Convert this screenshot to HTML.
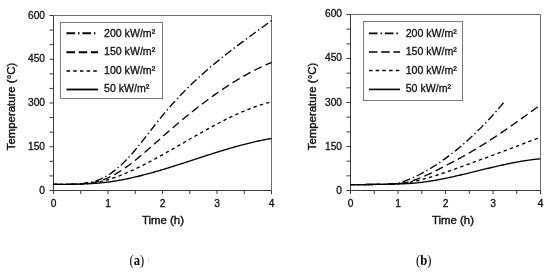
<!DOCTYPE html>
<html><head><meta charset="utf-8"><style>
html,body{margin:0;padding:0;background:#fff;}
body{width:550px;height:273px;overflow:hidden;}
svg{display:block;}
text{fill:#111;stroke:#111;stroke-width:0.3px;}
.tk{font-family:"Liberation Sans",sans-serif;font-size:10.2px;}
.lg{font-family:"Liberation Sans",sans-serif;font-size:10.6px;}
.at{font-family:"Liberation Sans",sans-serif;font-size:11.4px;stroke-width:0.4px;}
.cap{font-family:"Liberation Serif",serif;font-size:14px;fill:#000;stroke:none;}
</style></head><body>
<svg width="550" height="273" viewBox="0 0 550 273">
<rect width="550" height="273" fill="#fff"/>
<path d="M53.5,15.5 H271.5 V190.5" fill="none" stroke="#6e6e6e" stroke-width="1"/>
<line x1="49.5" y1="190.50" x2="53.5" y2="190.50" stroke="#3a3a3a" stroke-width="1"/>
<line x1="49.5" y1="175.92" x2="53.5" y2="175.92" stroke="#3a3a3a" stroke-width="1"/>
<line x1="49.5" y1="161.33" x2="53.5" y2="161.33" stroke="#3a3a3a" stroke-width="1"/>
<line x1="49.5" y1="146.75" x2="53.5" y2="146.75" stroke="#3a3a3a" stroke-width="1"/>
<line x1="49.5" y1="132.17" x2="53.5" y2="132.17" stroke="#3a3a3a" stroke-width="1"/>
<line x1="49.5" y1="117.58" x2="53.5" y2="117.58" stroke="#3a3a3a" stroke-width="1"/>
<line x1="49.5" y1="103.00" x2="53.5" y2="103.00" stroke="#3a3a3a" stroke-width="1"/>
<line x1="49.5" y1="88.42" x2="53.5" y2="88.42" stroke="#3a3a3a" stroke-width="1"/>
<line x1="49.5" y1="73.83" x2="53.5" y2="73.83" stroke="#3a3a3a" stroke-width="1"/>
<line x1="49.5" y1="59.25" x2="53.5" y2="59.25" stroke="#3a3a3a" stroke-width="1"/>
<line x1="49.5" y1="44.67" x2="53.5" y2="44.67" stroke="#3a3a3a" stroke-width="1"/>
<line x1="49.5" y1="30.08" x2="53.5" y2="30.08" stroke="#3a3a3a" stroke-width="1"/>
<line x1="49.5" y1="15.50" x2="53.5" y2="15.50" stroke="#3a3a3a" stroke-width="1"/>
<line x1="53.50" y1="190.5" x2="53.50" y2="194.0" stroke="#3a3a3a" stroke-width="1"/>
<line x1="80.75" y1="190.5" x2="80.75" y2="194.0" stroke="#3a3a3a" stroke-width="1"/>
<line x1="108.00" y1="190.5" x2="108.00" y2="194.0" stroke="#3a3a3a" stroke-width="1"/>
<line x1="135.25" y1="190.5" x2="135.25" y2="194.0" stroke="#3a3a3a" stroke-width="1"/>
<line x1="162.50" y1="190.5" x2="162.50" y2="194.0" stroke="#3a3a3a" stroke-width="1"/>
<line x1="189.75" y1="190.5" x2="189.75" y2="194.0" stroke="#3a3a3a" stroke-width="1"/>
<line x1="217.00" y1="190.5" x2="217.00" y2="194.0" stroke="#3a3a3a" stroke-width="1"/>
<line x1="244.25" y1="190.5" x2="244.25" y2="194.0" stroke="#3a3a3a" stroke-width="1"/>
<line x1="271.50" y1="190.5" x2="271.50" y2="194.0" stroke="#3a3a3a" stroke-width="1"/>
<line x1="53.5" y1="15.5" x2="53.5" y2="191.0" stroke="#3a3a3a" stroke-width="1"/>
<line x1="53.0" y1="190.5" x2="271.5" y2="190.5" stroke="#3a3a3a" stroke-width="1"/>
<text x="45" y="193.60" text-anchor="end" class="tk">0</text>
<text x="45" y="149.85" text-anchor="end" class="tk">150</text>
<text x="45" y="106.10" text-anchor="end" class="tk">300</text>
<text x="45" y="62.35" text-anchor="end" class="tk">450</text>
<text x="45" y="18.60" text-anchor="end" class="tk">600</text>
<text x="53.50" y="207.2" text-anchor="middle" class="tk">0</text>
<text x="108.00" y="207.2" text-anchor="middle" class="tk">1</text>
<text x="162.50" y="207.2" text-anchor="middle" class="tk">2</text>
<text x="217.00" y="207.2" text-anchor="middle" class="tk">3</text>
<text x="271.50" y="207.2" text-anchor="middle" class="tk">4</text>
<path d="M53.50,184.30 L54.50,184.30 L55.50,184.30 L56.50,184.30 L57.50,184.30 L58.50,184.30 L59.50,184.30 L60.50,184.30 L61.50,184.30 L62.50,184.30 L63.50,184.30 L64.50,184.30 L65.50,184.30 L66.50,184.30 L67.50,184.30 L68.50,184.30 L69.50,184.30 L70.50,184.30 L71.50,184.29 L72.50,184.28 L73.50,184.27 L74.50,184.25 L75.50,184.23 L76.50,184.21 L77.50,184.19 L78.50,184.16 L79.50,184.13 L80.50,184.09 L81.50,184.03 L82.50,183.94 L83.50,183.70 L84.50,183.38 L85.50,183.07 L86.50,182.85 L87.50,182.67 L88.50,182.52 L89.50,182.38 L90.50,182.23 L91.50,182.07 L92.50,181.88 L93.50,181.65 L94.50,181.38 L95.50,181.08 L96.50,180.73 L97.50,180.37 L98.50,179.98 L99.50,179.58 L100.50,179.16 L101.50,178.71 L102.50,178.23 L103.50,177.73 L104.50,177.19 L105.50,176.64 L106.50,176.07 L107.50,175.48 L108.50,174.86 L109.50,174.22 L110.50,173.54 L111.50,172.85 L112.50,172.13 L113.50,171.39 L114.50,170.64 L115.50,169.86 L116.50,169.05 L117.50,168.21 L118.50,167.36 L119.50,166.48 L120.50,165.58 L121.50,164.66 L122.50,163.72 L123.50,162.75 L124.50,161.76 L125.50,160.74 L126.50,159.71 L127.50,158.66 L128.50,157.59 L129.50,156.50 L130.50,155.39 L131.50,154.25 L132.50,153.10 L133.50,151.94 L134.50,150.76 L135.50,149.58 L136.50,148.38 L137.50,147.16 L138.50,145.93 L139.50,144.69 L140.50,143.44 L141.50,142.19 L142.50,140.93 L143.50,139.66 L144.50,138.39 L145.50,137.11 L146.50,135.82 L147.50,134.53 L148.50,133.25 L149.50,131.97 L150.50,130.68 L151.50,129.39 L152.50,128.10 L153.50,126.82 L154.50,125.54 L155.50,124.26 L156.50,123.00 L157.50,121.74 L158.50,120.49 L159.50,119.24 L160.50,118.00 L161.50,116.77 L162.50,115.55 L163.50,114.34 L164.50,113.15 L165.50,111.96 L166.50,110.78 L167.50,109.62 L168.50,108.46 L169.50,107.31 L170.50,106.17 L171.50,105.04 L172.50,103.92 L173.50,102.81 L174.50,101.71 L175.50,100.61 L176.50,99.53 L177.50,98.45 L178.50,97.38 L179.50,96.32 L180.50,95.27 L181.50,94.23 L182.50,93.20 L183.50,92.17 L184.50,91.15 L185.50,90.14 L186.50,89.14 L187.50,88.14 L188.50,87.15 L189.50,86.17 L190.50,85.20 L191.50,84.23 L192.50,83.28 L193.50,82.32 L194.50,81.38 L195.50,80.44 L196.50,79.51 L197.50,78.58 L198.50,77.66 L199.50,76.75 L200.50,75.84 L201.50,74.94 L202.50,74.05 L203.50,73.16 L204.50,72.28 L205.50,71.40 L206.50,70.53 L207.50,69.66 L208.50,68.80 L209.50,67.94 L210.50,67.09 L211.50,66.25 L212.50,65.40 L213.50,64.57 L214.50,63.74 L215.50,62.91 L216.50,62.09 L217.50,61.27 L218.50,60.45 L219.50,59.64 L220.50,58.84 L221.50,58.04 L222.50,57.24 L223.50,56.44 L224.50,55.65 L225.50,54.86 L226.50,54.08 L227.50,53.30 L228.50,52.52 L229.50,51.75 L230.50,50.97 L231.50,50.21 L232.50,49.44 L233.50,48.67 L234.50,47.91 L235.50,47.15 L236.50,46.40 L237.50,45.64 L238.50,44.89 L239.50,44.14 L240.50,43.39 L241.50,42.65 L242.50,41.90 L243.50,41.16 L244.50,40.42 L245.50,39.67 L246.50,38.93 L247.50,38.19 L248.50,37.46 L249.50,36.72 L250.50,35.98 L251.50,35.25 L252.50,34.51 L253.50,33.78 L254.50,33.05 L255.50,32.31 L256.50,31.58 L257.50,30.84 L258.50,30.11 L259.50,29.38 L260.50,28.64 L261.50,27.91 L262.50,27.17 L263.50,26.43 L264.50,25.70 L265.50,24.96 L266.50,24.22 L267.50,23.48 L268.50,22.74 L269.50,22.00 L270.50,21.25 L271.50,20.51" fill="none" stroke="#000" stroke-width="1.35" stroke-linejoin="round" stroke-dasharray="8 2.9 1.4 2.9" stroke-dashoffset="3.46"/>
<path d="M53.50,184.30 L54.50,184.30 L55.50,184.30 L56.50,184.30 L57.50,184.30 L58.50,184.30 L59.50,184.30 L60.50,184.30 L61.50,184.30 L62.50,184.30 L63.50,184.30 L64.50,184.30 L65.50,184.30 L66.50,184.30 L67.50,184.30 L68.50,184.30 L69.50,184.30 L70.50,184.30 L71.50,184.29 L72.50,184.28 L73.50,184.27 L74.50,184.25 L75.50,184.23 L76.50,184.21 L77.50,184.19 L78.50,184.16 L79.50,184.13 L80.50,184.09 L81.50,184.03 L82.50,183.93 L83.50,183.66 L84.50,183.31 L85.50,183.02 L86.50,182.89 L87.50,182.81 L88.50,182.75 L89.50,182.71 L90.50,182.67 L91.50,182.61 L92.50,182.54 L93.50,182.44 L94.50,182.29 L95.50,182.10 L96.50,181.87 L97.50,181.62 L98.50,181.35 L99.50,181.07 L100.50,180.79 L101.50,180.47 L102.50,180.13 L103.50,179.77 L104.50,179.38 L105.50,178.98 L106.50,178.57 L107.50,178.14 L108.50,177.70 L109.50,177.22 L110.50,176.73 L111.50,176.23 L112.50,175.70 L113.50,175.17 L114.50,174.63 L115.50,174.06 L116.50,173.48 L117.50,172.88 L118.50,172.27 L119.50,171.64 L120.50,171.01 L121.50,170.36 L122.50,169.70 L123.50,169.02 L124.50,168.33 L125.50,167.63 L126.50,166.92 L127.50,166.19 L128.50,165.47 L129.50,164.72 L130.50,163.97 L131.50,163.20 L132.50,162.43 L133.50,161.65 L134.50,160.86 L135.50,160.06 L136.50,159.26 L137.50,158.45 L138.50,157.62 L139.50,156.79 L140.50,155.96 L141.50,155.12 L142.50,154.28 L143.50,153.43 L144.50,152.57 L145.50,151.71 L146.50,150.84 L147.50,149.98 L148.50,149.10 L149.50,148.23 L150.50,147.35 L151.50,146.47 L152.50,145.59 L153.50,144.70 L154.50,143.82 L155.50,142.93 L156.50,142.04 L157.50,141.16 L158.50,140.27 L159.50,139.38 L160.50,138.49 L161.50,137.60 L162.50,136.72 L163.50,135.84 L164.50,134.96 L165.50,134.08 L166.50,133.21 L167.50,132.33 L168.50,131.46 L169.50,130.59 L170.50,129.73 L171.50,128.87 L172.50,128.01 L173.50,127.15 L174.50,126.30 L175.50,125.45 L176.50,124.60 L177.50,123.75 L178.50,122.91 L179.50,122.07 L180.50,121.23 L181.50,120.40 L182.50,119.57 L183.50,118.74 L184.50,117.92 L185.50,117.10 L186.50,116.28 L187.50,115.47 L188.50,114.66 L189.50,113.85 L190.50,113.05 L191.50,112.25 L192.50,111.45 L193.50,110.66 L194.50,109.87 L195.50,109.08 L196.50,108.30 L197.50,107.52 L198.50,106.74 L199.50,105.97 L200.50,105.20 L201.50,104.44 L202.50,103.68 L203.50,102.92 L204.50,102.17 L205.50,101.42 L206.50,100.68 L207.50,99.93 L208.50,99.20 L209.50,98.46 L210.50,97.74 L211.50,97.01 L212.50,96.29 L213.50,95.58 L214.50,94.86 L215.50,94.16 L216.50,93.45 L217.50,92.75 L218.50,92.06 L219.50,91.37 L220.50,90.68 L221.50,90.00 L222.50,89.33 L223.50,88.65 L224.50,87.99 L225.50,87.32 L226.50,86.67 L227.50,86.01 L228.50,85.36 L229.50,84.72 L230.50,84.08 L231.50,83.45 L232.50,82.82 L233.50,82.19 L234.50,81.57 L235.50,80.96 L236.50,80.35 L237.50,79.74 L238.50,79.14 L239.50,78.55 L240.50,77.96 L241.50,77.38 L242.50,76.80 L243.50,76.23 L244.50,75.66 L245.50,75.10 L246.50,74.54 L247.50,73.99 L248.50,73.44 L249.50,72.90 L250.50,72.36 L251.50,71.83 L252.50,71.31 L253.50,70.79 L254.50,70.28 L255.50,69.77 L256.50,69.27 L257.50,68.77 L258.50,68.28 L259.50,67.80 L260.50,67.32 L261.50,66.85 L262.50,66.38 L263.50,65.92 L264.50,65.47 L265.50,65.02 L266.50,64.58 L267.50,64.14 L268.50,63.71 L269.50,63.29 L270.50,62.87 L271.50,62.46" fill="none" stroke="#000" stroke-width="1.35" stroke-linejoin="round" stroke-dasharray="8.2 4.3"/>
<path d="M53.50,184.30 L54.50,184.30 L55.50,184.30 L56.50,184.30 L57.50,184.30 L58.50,184.30 L59.50,184.30 L60.50,184.30 L61.50,184.30 L62.50,184.30 L63.50,184.30 L64.50,184.30 L65.50,184.30 L66.50,184.30 L67.50,184.30 L68.50,184.30 L69.50,184.30 L70.50,184.30 L71.50,184.29 L72.50,184.28 L73.50,184.27 L74.50,184.25 L75.50,184.23 L76.50,184.21 L77.50,184.19 L78.50,184.15 L79.50,184.11 L80.50,184.07 L81.50,184.02 L82.50,183.98 L83.50,183.94 L84.50,183.90 L85.50,183.86 L86.50,183.80 L87.50,183.72 L88.50,183.62 L89.50,183.51 L90.50,183.39 L91.50,183.26 L92.50,183.12 L93.50,182.98 L94.50,182.82 L95.50,182.65 L96.50,182.46 L97.50,182.27 L98.50,182.06 L99.50,181.85 L100.50,181.64 L101.50,181.41 L102.50,181.17 L103.50,180.91 L104.50,180.65 L105.50,180.38 L106.50,180.10 L107.50,179.82 L108.50,179.53 L109.50,179.23 L110.50,178.91 L111.50,178.59 L112.50,178.26 L113.50,177.93 L114.50,177.59 L115.50,177.24 L116.50,176.88 L117.50,176.51 L118.50,176.14 L119.50,175.76 L120.50,175.37 L121.50,174.98 L122.50,174.58 L123.50,174.17 L124.50,173.76 L125.50,173.34 L126.50,172.91 L127.50,172.48 L128.50,172.05 L129.50,171.61 L130.50,171.16 L131.50,170.71 L132.50,170.25 L133.50,169.78 L134.50,169.31 L135.50,168.84 L136.50,168.37 L137.50,167.88 L138.50,167.40 L139.50,166.91 L140.50,166.41 L141.50,165.91 L142.50,165.41 L143.50,164.91 L144.50,164.40 L145.50,163.89 L146.50,163.37 L147.50,162.85 L148.50,162.33 L149.50,161.81 L150.50,161.28 L151.50,160.75 L152.50,160.22 L153.50,159.68 L154.50,159.14 L155.50,158.60 L156.50,158.06 L157.50,157.51 L158.50,156.96 L159.50,156.41 L160.50,155.86 L161.50,155.31 L162.50,154.75 L163.50,154.20 L164.50,153.64 L165.50,153.08 L166.50,152.51 L167.50,151.95 L168.50,151.38 L169.50,150.82 L170.50,150.25 L171.50,149.68 L172.50,149.11 L173.50,148.54 L174.50,147.97 L175.50,147.40 L176.50,146.82 L177.50,146.25 L178.50,145.68 L179.50,145.10 L180.50,144.53 L181.50,143.95 L182.50,143.38 L183.50,142.80 L184.50,142.23 L185.50,141.65 L186.50,141.08 L187.50,140.50 L188.50,139.93 L189.50,139.35 L190.50,138.78 L191.50,138.20 L192.50,137.63 L193.50,137.06 L194.50,136.49 L195.50,135.92 L196.50,135.35 L197.50,134.78 L198.50,134.22 L199.50,133.65 L200.50,133.09 L201.50,132.52 L202.50,131.96 L203.50,131.40 L204.50,130.85 L205.50,130.29 L206.50,129.74 L207.50,129.18 L208.50,128.63 L209.50,128.08 L210.50,127.54 L211.50,127.00 L212.50,126.45 L213.50,125.92 L214.50,125.38 L215.50,124.85 L216.50,124.31 L217.50,123.79 L218.50,123.26 L219.50,122.74 L220.50,122.22 L221.50,121.70 L222.50,121.19 L223.50,120.68 L224.50,120.17 L225.50,119.67 L226.50,119.17 L227.50,118.68 L228.50,118.19 L229.50,117.70 L230.50,117.21 L231.50,116.73 L232.50,116.26 L233.50,115.79 L234.50,115.32 L235.50,114.86 L236.50,114.40 L237.50,113.94 L238.50,113.49 L239.50,113.05 L240.50,112.61 L241.50,112.17 L242.50,111.74 L243.50,111.31 L244.50,110.89 L245.50,110.48 L246.50,110.07 L247.50,109.66 L248.50,109.27 L249.50,108.87 L250.50,108.48 L251.50,108.10 L252.50,107.72 L253.50,107.35 L254.50,106.99 L255.50,106.63 L256.50,106.27 L257.50,105.93 L258.50,105.59 L259.50,105.25 L260.50,104.92 L261.50,104.61 L262.50,104.29 L263.50,103.99 L264.50,103.68 L265.50,103.39 L266.50,103.10 L267.50,102.82 L268.50,102.54 L269.50,102.28 L270.50,102.02 L271.50,101.77" fill="none" stroke="#000" stroke-width="1.35" stroke-linejoin="round" stroke-dasharray="3.4 3.2"/>
<path d="M53.50,184.30 L54.50,184.30 L55.50,184.30 L56.50,184.30 L57.50,184.30 L58.50,184.30 L59.50,184.30 L60.50,184.30 L61.50,184.30 L62.50,184.30 L63.50,184.30 L64.50,184.30 L65.50,184.30 L66.50,184.30 L67.50,184.30 L68.50,184.30 L69.50,184.30 L70.50,184.30 L71.50,184.29 L72.50,184.28 L73.50,184.27 L74.50,184.25 L75.50,184.23 L76.50,184.21 L77.50,184.19 L78.50,184.16 L79.50,184.12 L80.50,184.08 L81.50,184.03 L82.50,183.97 L83.50,183.89 L84.50,183.80 L85.50,183.72 L86.50,183.66 L87.50,183.62 L88.50,183.59 L89.50,183.56 L90.50,183.53 L91.50,183.50 L92.50,183.46 L93.50,183.42 L94.50,183.36 L95.50,183.30 L96.50,183.22 L97.50,183.14 L98.50,183.06 L99.50,182.98 L100.50,182.89 L101.50,182.80 L102.50,182.69 L103.50,182.59 L104.50,182.48 L105.50,182.36 L106.50,182.24 L107.50,182.12 L108.50,181.99 L109.50,181.86 L110.50,181.72 L111.50,181.57 L112.50,181.42 L113.50,181.27 L114.50,181.12 L115.50,180.96 L116.50,180.80 L117.50,180.63 L118.50,180.45 L119.50,180.28 L120.50,180.10 L121.50,179.91 L122.50,179.73 L123.50,179.53 L124.50,179.34 L125.50,179.14 L126.50,178.93 L127.50,178.73 L128.50,178.52 L129.50,178.30 L130.50,178.09 L131.50,177.86 L132.50,177.64 L133.50,177.41 L134.50,177.18 L135.50,176.95 L136.50,176.71 L137.50,176.47 L138.50,176.23 L139.50,175.98 L140.50,175.73 L141.50,175.48 L142.50,175.23 L143.50,174.97 L144.50,174.71 L145.50,174.45 L146.50,174.18 L147.50,173.92 L148.50,173.65 L149.50,173.37 L150.50,173.10 L151.50,172.82 L152.50,172.54 L153.50,172.26 L154.50,171.98 L155.50,171.69 L156.50,171.40 L157.50,171.11 L158.50,170.82 L159.50,170.53 L160.50,170.23 L161.50,169.93 L162.50,169.63 L163.50,169.33 L164.50,169.03 L165.50,168.73 L166.50,168.42 L167.50,168.11 L168.50,167.81 L169.50,167.50 L170.50,167.18 L171.50,166.87 L172.50,166.56 L173.50,166.24 L174.50,165.93 L175.50,165.61 L176.50,165.29 L177.50,164.97 L178.50,164.66 L179.50,164.33 L180.50,164.01 L181.50,163.69 L182.50,163.37 L183.50,163.04 L184.50,162.72 L185.50,162.40 L186.50,162.07 L187.50,161.75 L188.50,161.42 L189.50,161.10 L190.50,160.77 L191.50,160.44 L192.50,160.12 L193.50,159.79 L194.50,159.46 L195.50,159.14 L196.50,158.81 L197.50,158.49 L198.50,158.16 L199.50,157.83 L200.50,157.51 L201.50,157.18 L202.50,156.86 L203.50,156.53 L204.50,156.21 L205.50,155.89 L206.50,155.57 L207.50,155.24 L208.50,154.92 L209.50,154.60 L210.50,154.28 L211.50,153.96 L212.50,153.65 L213.50,153.33 L214.50,153.01 L215.50,152.70 L216.50,152.39 L217.50,152.07 L218.50,151.76 L219.50,151.45 L220.50,151.15 L221.50,150.84 L222.50,150.53 L223.50,150.23 L224.50,149.93 L225.50,149.63 L226.50,149.33 L227.50,149.03 L228.50,148.74 L229.50,148.44 L230.50,148.15 L231.50,147.86 L232.50,147.57 L233.50,147.29 L234.50,147.00 L235.50,146.72 L236.50,146.44 L237.50,146.17 L238.50,145.89 L239.50,145.62 L240.50,145.35 L241.50,145.08 L242.50,144.82 L243.50,144.56 L244.50,144.30 L245.50,144.04 L246.50,143.79 L247.50,143.54 L248.50,143.29 L249.50,143.04 L250.50,142.80 L251.50,142.56 L252.50,142.33 L253.50,142.09 L254.50,141.86 L255.50,141.64 L256.50,141.41 L257.50,141.19 L258.50,140.98 L259.50,140.76 L260.50,140.56 L261.50,140.35 L262.50,140.15 L263.50,139.95 L264.50,139.76 L265.50,139.56 L266.50,139.38 L267.50,139.19 L268.50,139.01 L269.50,138.84 L270.50,138.67 L271.50,138.50" fill="none" stroke="#000" stroke-width="1.35" stroke-linejoin="round"/>
<rect x="60.5" y="22.5" width="102.0" height="76.0" fill="#fff" stroke="#7a7a7a" stroke-width="1"/>
<line x1="66.5" y1="33.2" x2="98" y2="33.2" stroke="#000" stroke-width="1.9" stroke-dasharray="8.6 2.9 1.5 2.9"/>
<text x="104" y="37.00" class="lg">200 kW/m²</text>
<line x1="66.5" y1="52.2" x2="98" y2="52.2" stroke="#000" stroke-width="1.9" stroke-dasharray="8.5 3.7"/>
<text x="104" y="55.20" class="lg">150 kW/m²</text>
<line x1="66.5" y1="71" x2="98" y2="71" stroke="#000" stroke-width="1.5" stroke-dasharray="3.5 3.2"/>
<text x="104" y="74.00" class="lg">100 kW/m²</text>
<line x1="66.5" y1="89.5" x2="98" y2="89.5" stroke="#000" stroke-width="1.7999999999999998"/>
<text x="104" y="92.40" class="lg">50 kW/m²</text>
<text x="163" y="223.6" text-anchor="middle" class="at">Time (h)</text>
<text transform="translate(15.2,106.5) rotate(-90)" text-anchor="middle" class="at">Temperature (°C)</text>
<path d="M350.5,14.5 H540.5 V190.5" fill="none" stroke="#6e6e6e" stroke-width="1"/>
<line x1="346.5" y1="190.50" x2="350.5" y2="190.50" stroke="#3a3a3a" stroke-width="1"/>
<line x1="346.5" y1="175.83" x2="350.5" y2="175.83" stroke="#3a3a3a" stroke-width="1"/>
<line x1="346.5" y1="161.17" x2="350.5" y2="161.17" stroke="#3a3a3a" stroke-width="1"/>
<line x1="346.5" y1="146.50" x2="350.5" y2="146.50" stroke="#3a3a3a" stroke-width="1"/>
<line x1="346.5" y1="131.83" x2="350.5" y2="131.83" stroke="#3a3a3a" stroke-width="1"/>
<line x1="346.5" y1="117.17" x2="350.5" y2="117.17" stroke="#3a3a3a" stroke-width="1"/>
<line x1="346.5" y1="102.50" x2="350.5" y2="102.50" stroke="#3a3a3a" stroke-width="1"/>
<line x1="346.5" y1="87.83" x2="350.5" y2="87.83" stroke="#3a3a3a" stroke-width="1"/>
<line x1="346.5" y1="73.17" x2="350.5" y2="73.17" stroke="#3a3a3a" stroke-width="1"/>
<line x1="346.5" y1="58.50" x2="350.5" y2="58.50" stroke="#3a3a3a" stroke-width="1"/>
<line x1="346.5" y1="43.83" x2="350.5" y2="43.83" stroke="#3a3a3a" stroke-width="1"/>
<line x1="346.5" y1="29.17" x2="350.5" y2="29.17" stroke="#3a3a3a" stroke-width="1"/>
<line x1="346.5" y1="14.50" x2="350.5" y2="14.50" stroke="#3a3a3a" stroke-width="1"/>
<line x1="350.50" y1="190.5" x2="350.50" y2="194.0" stroke="#3a3a3a" stroke-width="1"/>
<line x1="374.25" y1="190.5" x2="374.25" y2="194.0" stroke="#3a3a3a" stroke-width="1"/>
<line x1="398.00" y1="190.5" x2="398.00" y2="194.0" stroke="#3a3a3a" stroke-width="1"/>
<line x1="421.75" y1="190.5" x2="421.75" y2="194.0" stroke="#3a3a3a" stroke-width="1"/>
<line x1="445.50" y1="190.5" x2="445.50" y2="194.0" stroke="#3a3a3a" stroke-width="1"/>
<line x1="469.25" y1="190.5" x2="469.25" y2="194.0" stroke="#3a3a3a" stroke-width="1"/>
<line x1="493.00" y1="190.5" x2="493.00" y2="194.0" stroke="#3a3a3a" stroke-width="1"/>
<line x1="516.75" y1="190.5" x2="516.75" y2="194.0" stroke="#3a3a3a" stroke-width="1"/>
<line x1="540.50" y1="190.5" x2="540.50" y2="194.0" stroke="#3a3a3a" stroke-width="1"/>
<line x1="350.5" y1="14.5" x2="350.5" y2="191.0" stroke="#3a3a3a" stroke-width="1"/>
<line x1="350.0" y1="190.5" x2="540.5" y2="190.5" stroke="#3a3a3a" stroke-width="1"/>
<text x="342" y="193.60" text-anchor="end" class="tk">0</text>
<text x="342" y="150.00" text-anchor="end" class="tk">150</text>
<text x="342" y="105.60" text-anchor="end" class="tk">300</text>
<text x="342" y="60.90" text-anchor="end" class="tk">450</text>
<text x="342" y="16.65" text-anchor="end" class="tk">600</text>
<text x="350.50" y="207.2" text-anchor="middle" class="tk">0</text>
<text x="398.00" y="207.2" text-anchor="middle" class="tk">1</text>
<text x="445.50" y="207.2" text-anchor="middle" class="tk">2</text>
<text x="493.00" y="207.2" text-anchor="middle" class="tk">3</text>
<text x="540.50" y="207.2" text-anchor="middle" class="tk">4</text>
<path d="M350.50,184.60 L351.50,184.60 L352.50,184.60 L353.50,184.60 L354.50,184.60 L355.50,184.60 L356.50,184.60 L357.50,184.60 L358.50,184.60 L359.50,184.60 L360.50,184.60 L361.50,184.60 L362.50,184.59 L363.50,184.58 L364.50,184.57 L365.50,184.56 L366.50,184.54 L367.50,184.53 L368.50,184.52 L369.50,184.51 L370.50,184.49 L371.50,184.48 L372.50,184.46 L373.50,184.45 L374.50,184.43 L375.50,184.42 L376.50,184.41 L377.50,184.40 L378.50,184.40 L379.50,184.40 L380.50,184.40 L381.50,184.40 L382.50,184.40 L383.50,184.40 L384.50,184.40 L385.50,184.40 L386.50,184.40 L387.50,184.40 L388.50,184.40 L389.50,184.40 L390.50,184.40 L391.50,184.40 L392.50,184.39 L393.50,184.29 L394.50,184.12 L395.50,183.89 L396.50,183.63 L397.50,183.34 L398.50,183.06 L399.50,182.79 L400.50,182.50 L401.50,182.17 L402.50,181.82 L403.50,181.46 L404.50,181.09 L405.50,180.71 L406.50,180.33 L407.50,179.95 L408.50,179.55 L409.50,179.14 L410.50,178.72 L411.50,178.29 L412.50,177.85 L413.50,177.40 L414.50,176.95 L415.50,176.48 L416.50,176.00 L417.50,175.52 L418.50,175.02 L419.50,174.52 L420.50,174.01 L421.50,173.49 L422.50,172.95 L423.50,172.41 L424.50,171.86 L425.50,171.30 L426.50,170.74 L427.50,170.16 L428.50,169.58 L429.50,168.98 L430.50,168.38 L431.50,167.77 L432.50,167.15 L433.50,166.52 L434.50,165.89 L435.50,165.24 L436.50,164.59 L437.50,163.93 L438.50,163.26 L439.50,162.58 L440.50,161.90 L441.50,161.20 L442.50,160.50 L443.50,159.79 L444.50,159.08 L445.50,158.35 L446.50,157.62 L447.50,156.88 L448.50,156.13 L449.50,155.38 L450.50,154.61 L451.50,153.84 L452.50,153.07 L453.50,152.28 L454.50,151.49 L455.50,150.69 L456.50,149.88 L457.50,149.06 L458.50,148.24 L459.50,147.41 L460.50,146.57 L461.50,145.72 L462.50,144.87 L463.50,144.01 L464.50,143.14 L465.50,142.26 L466.50,141.38 L467.50,140.48 L468.50,139.58 L469.50,138.67 L470.50,137.76 L471.50,136.83 L472.50,135.90 L473.50,134.96 L474.50,134.01 L475.50,133.05 L476.50,132.08 L477.50,131.11 L478.50,130.13 L479.50,129.13 L480.50,128.14 L481.50,127.13 L482.50,126.11 L483.50,125.09 L484.50,124.06 L485.50,123.02 L486.50,121.97 L487.50,120.91 L488.50,119.84 L489.50,118.77 L490.50,117.68 L491.50,116.59 L492.50,115.49 L493.50,114.38 L494.50,113.26 L495.50,112.13 L496.50,111.00 L497.50,109.85 L498.50,108.70 L499.50,107.54 L500.50,106.36 L501.50,105.18 L502.50,103.99 L503.50,102.80" fill="none" stroke="#000" stroke-width="1.35" stroke-linejoin="round" stroke-dasharray="8 2.9 1.4 2.9" stroke-dashoffset="8.27"/>
<path d="M350.50,184.60 L351.50,184.60 L352.50,184.60 L353.50,184.60 L354.50,184.60 L355.50,184.60 L356.50,184.60 L357.50,184.60 L358.50,184.60 L359.50,184.60 L360.50,184.60 L361.50,184.60 L362.50,184.59 L363.50,184.58 L364.50,184.57 L365.50,184.56 L366.50,184.54 L367.50,184.53 L368.50,184.52 L369.50,184.51 L370.50,184.49 L371.50,184.48 L372.50,184.46 L373.50,184.45 L374.50,184.43 L375.50,184.42 L376.50,184.41 L377.50,184.40 L378.50,184.40 L379.50,184.40 L380.50,184.40 L381.50,184.40 L382.50,184.40 L383.50,184.40 L384.50,184.36 L385.50,184.30 L386.50,184.22 L387.50,184.13 L388.50,184.03 L389.50,183.93 L390.50,183.85 L391.50,183.78 L392.50,183.73 L393.50,183.70 L394.50,183.67 L395.50,183.65 L396.50,183.63 L397.50,183.60 L398.50,183.55 L399.50,183.50 L400.50,183.40 L401.50,183.26 L402.50,183.09 L403.50,182.90 L404.50,182.70 L405.50,182.50 L406.50,182.29 L407.50,182.06 L408.50,181.81 L409.50,181.53 L410.50,181.25 L411.50,180.95 L412.50,180.64 L413.50,180.33 L414.50,180.00 L415.50,179.66 L416.50,179.30 L417.50,178.93 L418.50,178.55 L419.50,178.16 L420.50,177.77 L421.50,177.37 L422.50,176.95 L423.50,176.53 L424.50,176.09 L425.50,175.65 L426.50,175.20 L427.50,174.75 L428.50,174.30 L429.50,173.83 L430.50,173.36 L431.50,172.88 L432.50,172.39 L433.50,171.91 L434.50,171.42 L435.50,170.93 L436.50,170.43 L437.50,169.92 L438.50,169.42 L439.50,168.91 L440.50,168.40 L441.50,167.89 L442.50,167.37 L443.50,166.86 L444.50,166.34 L445.50,165.81 L446.50,165.29 L447.50,164.77 L448.50,164.24 L449.50,163.72 L450.50,163.19 L451.50,162.66 L452.50,162.14 L453.50,161.60 L454.50,161.07 L455.50,160.54 L456.50,160.00 L457.50,159.46 L458.50,158.92 L459.50,158.38 L460.50,157.83 L461.50,157.28 L462.50,156.73 L463.50,156.18 L464.50,155.62 L465.50,155.06 L466.50,154.50 L467.50,153.93 L468.50,153.36 L469.50,152.79 L470.50,152.21 L471.50,151.63 L472.50,151.04 L473.50,150.45 L474.50,149.86 L475.50,149.26 L476.50,148.66 L477.50,148.06 L478.50,147.45 L479.50,146.84 L480.50,146.22 L481.50,145.60 L482.50,144.98 L483.50,144.35 L484.50,143.72 L485.50,143.09 L486.50,142.45 L487.50,141.81 L488.50,141.17 L489.50,140.53 L490.50,139.88 L491.50,139.23 L492.50,138.57 L493.50,137.92 L494.50,137.26 L495.50,136.59 L496.50,135.93 L497.50,135.26 L498.50,134.59 L499.50,133.92 L500.50,133.24 L501.50,132.57 L502.50,131.89 L503.50,131.20 L504.50,130.52 L505.50,129.84 L506.50,129.15 L507.50,128.46 L508.50,127.76 L509.50,127.07 L510.50,126.37 L511.50,125.68 L512.50,124.98 L513.50,124.28 L514.50,123.57 L515.50,122.87 L516.50,122.16 L517.50,121.45 L518.50,120.74 L519.50,120.03 L520.50,119.32 L521.50,118.60 L522.50,117.89 L523.50,117.17 L524.50,116.45 L525.50,115.73 L526.50,115.01 L527.50,114.29 L528.50,113.57 L529.50,112.84 L530.50,112.11 L531.50,111.39 L532.50,110.66 L533.50,109.93 L534.50,109.20 L535.50,108.47 L536.50,107.74 L537.50,107.01 L538.50,106.27 L539.50,105.54 L540.50,104.80" fill="none" stroke="#000" stroke-width="1.35" stroke-linejoin="round" stroke-dasharray="8.2 4.3"/>
<path d="M350.50,184.60 L351.50,184.60 L352.50,184.60 L353.50,184.60 L354.50,184.60 L355.50,184.60 L356.50,184.60 L357.50,184.60 L358.50,184.60 L359.50,184.60 L360.50,184.60 L361.50,184.60 L362.50,184.59 L363.50,184.58 L364.50,184.57 L365.50,184.56 L366.50,184.54 L367.50,184.53 L368.50,184.52 L369.50,184.51 L370.50,184.49 L371.50,184.48 L372.50,184.46 L373.50,184.45 L374.50,184.43 L375.50,184.42 L376.50,184.41 L377.50,184.40 L378.50,184.40 L379.50,184.40 L380.50,184.40 L381.50,184.40 L382.50,184.40 L383.50,184.40 L384.50,184.40 L385.50,184.39 L386.50,184.39 L387.50,184.38 L388.50,184.37 L389.50,184.36 L390.50,184.35 L391.50,184.33 L392.50,184.32 L393.50,184.28 L394.50,184.23 L395.50,184.16 L396.50,184.09 L397.50,184.01 L398.50,183.92 L399.50,183.84 L400.50,183.73 L401.50,183.62 L402.50,183.49 L403.50,183.36 L404.50,183.22 L405.50,183.07 L406.50,182.92 L407.50,182.76 L408.50,182.59 L409.50,182.41 L410.50,182.22 L411.50,182.02 L412.50,181.82 L413.50,181.62 L414.50,181.41 L415.50,181.19 L416.50,180.96 L417.50,180.73 L418.50,180.49 L419.50,180.24 L420.50,180.00 L421.50,179.74 L422.50,179.48 L423.50,179.21 L424.50,178.94 L425.50,178.66 L426.50,178.38 L427.50,178.09 L428.50,177.80 L429.50,177.51 L430.50,177.21 L431.50,176.90 L432.50,176.59 L433.50,176.28 L434.50,175.97 L435.50,175.65 L436.50,175.33 L437.50,175.00 L438.50,174.67 L439.50,174.34 L440.50,174.01 L441.50,173.67 L442.50,173.33 L443.50,172.99 L444.50,172.65 L445.50,172.30 L446.50,171.95 L447.50,171.60 L448.50,171.26 L449.50,170.90 L450.50,170.55 L451.50,170.20 L452.50,169.84 L453.50,169.49 L454.50,169.13 L455.50,168.77 L456.50,168.42 L457.50,168.06 L458.50,167.70 L459.50,167.34 L460.50,166.98 L461.50,166.63 L462.50,166.27 L463.50,165.91 L464.50,165.55 L465.50,165.18 L466.50,164.82 L467.50,164.46 L468.50,164.10 L469.50,163.74 L470.50,163.37 L471.50,163.01 L472.50,162.65 L473.50,162.28 L474.50,161.92 L475.50,161.55 L476.50,161.19 L477.50,160.82 L478.50,160.45 L479.50,160.09 L480.50,159.72 L481.50,159.35 L482.50,158.98 L483.50,158.62 L484.50,158.25 L485.50,157.88 L486.50,157.51 L487.50,157.14 L488.50,156.77 L489.50,156.40 L490.50,156.03 L491.50,155.66 L492.50,155.29 L493.50,154.91 L494.50,154.54 L495.50,154.17 L496.50,153.80 L497.50,153.42 L498.50,153.05 L499.50,152.68 L500.50,152.30 L501.50,151.93 L502.50,151.56 L503.50,151.18 L504.50,150.81 L505.50,150.43 L506.50,150.06 L507.50,149.68 L508.50,149.30 L509.50,148.93 L510.50,148.55 L511.50,148.17 L512.50,147.80 L513.50,147.42 L514.50,147.04 L515.50,146.66 L516.50,146.29 L517.50,145.91 L518.50,145.53 L519.50,145.15 L520.50,144.77 L521.50,144.39 L522.50,144.01 L523.50,143.63 L524.50,143.25 L525.50,142.87 L526.50,142.49 L527.50,142.11 L528.50,141.73 L529.50,141.35 L530.50,140.97 L531.50,140.59 L532.50,140.21 L533.50,139.82 L534.50,139.44 L535.50,139.06 L536.50,138.68 L537.50,138.30 L538.50,137.91 L539.50,137.53 L540.50,137.15" fill="none" stroke="#000" stroke-width="1.35" stroke-linejoin="round" stroke-dasharray="3.4 3.2"/>
<path d="M350.50,184.60 L351.50,184.60 L352.50,184.60 L353.50,184.60 L354.50,184.60 L355.50,184.60 L356.50,184.60 L357.50,184.60 L358.50,184.60 L359.50,184.60 L360.50,184.60 L361.50,184.60 L362.50,184.59 L363.50,184.58 L364.50,184.57 L365.50,184.56 L366.50,184.54 L367.50,184.53 L368.50,184.52 L369.50,184.51 L370.50,184.49 L371.50,184.48 L372.50,184.46 L373.50,184.45 L374.50,184.43 L375.50,184.42 L376.50,184.41 L377.50,184.40 L378.50,184.40 L379.50,184.40 L380.50,184.40 L381.50,184.40 L382.50,184.40 L383.50,184.39 L384.50,184.35 L385.50,184.28 L386.50,184.19 L387.50,184.08 L388.50,183.98 L389.50,183.88 L390.50,183.81 L391.50,183.77 L392.50,183.76 L393.50,183.76 L394.50,183.76 L395.50,183.76 L396.50,183.76 L397.50,183.76 L398.50,183.76 L399.50,183.76 L400.50,183.76 L401.50,183.75 L402.50,183.74 L403.50,183.73 L404.50,183.71 L405.50,183.70 L406.50,183.67 L407.50,183.64 L408.50,183.58 L409.50,183.51 L410.50,183.43 L411.50,183.35 L412.50,183.27 L413.50,183.19 L414.50,183.10 L415.50,183.01 L416.50,182.91 L417.50,182.80 L418.50,182.69 L419.50,182.58 L420.50,182.47 L421.50,182.35 L422.50,182.22 L423.50,182.09 L424.50,181.95 L425.50,181.81 L426.50,181.67 L427.50,181.53 L428.50,181.38 L429.50,181.22 L430.50,181.07 L431.50,180.90 L432.50,180.74 L433.50,180.57 L434.50,180.40 L435.50,180.23 L436.50,180.05 L437.50,179.87 L438.50,179.68 L439.50,179.49 L440.50,179.30 L441.50,179.11 L442.50,178.91 L443.50,178.72 L444.50,178.51 L445.50,178.31 L446.50,178.10 L447.50,177.89 L448.50,177.68 L449.50,177.47 L450.50,177.25 L451.50,177.04 L452.50,176.82 L453.50,176.59 L454.50,176.37 L455.50,176.15 L456.50,175.92 L457.50,175.69 L458.50,175.46 L459.50,175.23 L460.50,175.00 L461.50,174.76 L462.50,174.53 L463.50,174.29 L464.50,174.05 L465.50,173.81 L466.50,173.58 L467.50,173.33 L468.50,173.09 L469.50,172.85 L470.50,172.61 L471.50,172.37 L472.50,172.12 L473.50,171.88 L474.50,171.64 L475.50,171.39 L476.50,171.15 L477.50,170.90 L478.50,170.66 L479.50,170.41 L480.50,170.17 L481.50,169.93 L482.50,169.68 L483.50,169.44 L484.50,169.20 L485.50,168.96 L486.50,168.71 L487.50,168.47 L488.50,168.23 L489.50,167.99 L490.50,167.76 L491.50,167.52 L492.50,167.28 L493.50,167.05 L494.50,166.81 L495.50,166.58 L496.50,166.35 L497.50,166.12 L498.50,165.90 L499.50,165.67 L500.50,165.45 L501.50,165.22 L502.50,165.00 L503.50,164.78 L504.50,164.57 L505.50,164.35 L506.50,164.14 L507.50,163.93 L508.50,163.72 L509.50,163.52 L510.50,163.32 L511.50,163.12 L512.50,162.92 L513.50,162.72 L514.50,162.53 L515.50,162.34 L516.50,162.16 L517.50,161.97 L518.50,161.80 L519.50,161.62 L520.50,161.45 L521.50,161.28 L522.50,161.11 L523.50,160.95 L524.50,160.79 L525.50,160.63 L526.50,160.48 L527.50,160.33 L528.50,160.19 L529.50,160.05 L530.50,159.91 L531.50,159.78 L532.50,159.66 L533.50,159.53 L534.50,159.42 L535.50,159.30 L536.50,159.19 L537.50,159.09 L538.50,158.98 L539.50,158.89 L540.50,158.80" fill="none" stroke="#000" stroke-width="1.35" stroke-linejoin="round"/>
<rect x="363.5" y="21.5" width="99.0" height="79.0" fill="#fff" stroke="#7a7a7a" stroke-width="1"/>
<line x1="369" y1="33.3" x2="400" y2="33.3" stroke="#000" stroke-width="1.7" stroke-dasharray="8.6 2.9 1.5 2.9"/>
<text x="405.7" y="37.00" class="lg">200 kW/m²</text>
<line x1="369" y1="52.0" x2="400" y2="52.0" stroke="#000" stroke-width="1.7" stroke-dasharray="8.5 3.7"/>
<text x="405.7" y="55.40" class="lg">150 kW/m²</text>
<line x1="369" y1="70.6" x2="400" y2="70.6" stroke="#000" stroke-width="1.5" stroke-dasharray="3.5 3.2"/>
<text x="405.7" y="74.00" class="lg">100 kW/m²</text>
<line x1="369" y1="89.4" x2="400" y2="89.4" stroke="#000" stroke-width="1.5999999999999999"/>
<text x="405.7" y="92.40" class="lg">50 kW/m²</text>
<text x="453" y="223.6" text-anchor="middle" class="at">Time (h)</text>
<text transform="translate(315.6,106.5) rotate(-90)" text-anchor="middle" class="at">Temperature (°C)</text>
<text transform="translate(136.9,265.2) scale(0.9,1)" text-anchor="middle" class="cap">(<tspan font-weight="bold">a</tspan>)</text>
<text transform="translate(423.7,265.2) scale(0.9,1)" text-anchor="middle" class="cap">(<tspan font-weight="bold">b</tspan>)</text>
<line x1="148.5" y1="257.5" x2="148.5" y2="263.5" stroke="#e4e4e4" stroke-width="1"/>
</svg>
</body></html>
